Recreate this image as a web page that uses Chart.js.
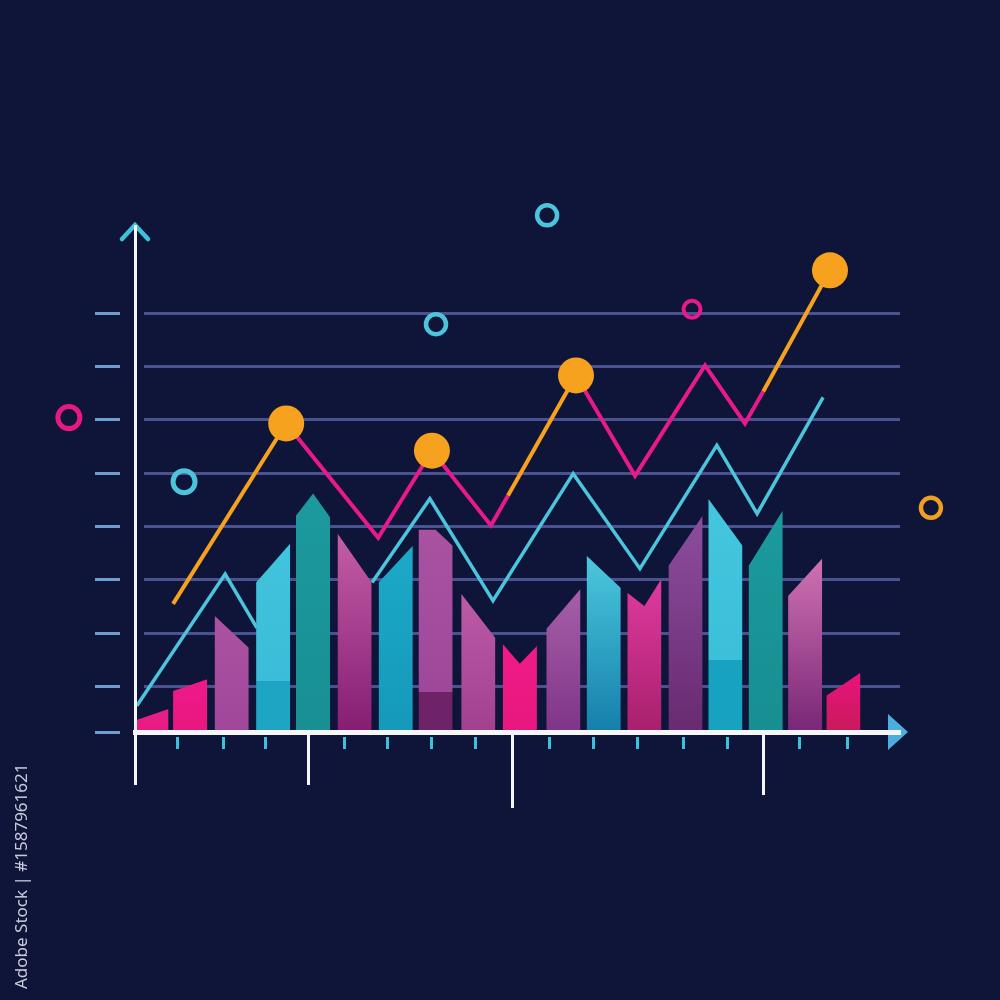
<!DOCTYPE html>
<html>
<head>
<meta charset="utf-8">
<title>Rising bars</title>
<script src="https://cdn.jsdelivr.net/npm/chart.js@4.4.1/dist/chart.umd.min.js"></script>
<style>
  html, body { margin: 0; padding: 0; background: #0f1439; }
  #wrap { position: relative; width: 1000px; height: 1000px; overflow: hidden; }
  #stockId {
    position: absolute; left: 11px; top: 989px;
    transform-origin: 0 0; transform: rotate(-90deg);
    color: #c9cbdb; font: 17px "Noto Sans", sans-serif; white-space: nowrap; line-height: 20px;
  }
</style>
</head>
<body>
<div id="wrap">
  <canvas id="chart" width="1000" height="1000"></canvas>
  <div id="stockId">Adobe Stock | #1587961621</div>
</div>
<script>
// ------------------------------------------------------------------
// Values (x = bar slot, y = grid step)
// ------------------------------------------------------------------
const barX = [0, 0.95, 1.97, 2.99, 3.97, 4.99, 6.0, 6.98, 8.03, 9.05, 10.12, 11.11, 12.11, 13.12, 14.1, 15.09, 16.06, 17.0];
const barLeft = [0.36, 0.92, 2.33, 2.95, 4.2, 3.87, 2.95, 3.94, 2.74, 1.8, 2.08, 3.45, 2.76, 3.26, 4.52, 3.26, 2.7, 0.83];
const barPeak = [null, null, null, null, 4.62, null, null, 3.94, null, 1.43, null, null, 2.51, null, null, null, null, null];
const barRight = [0.58, 1.14, 1.73, 3.68, 4.17, 2.95, 3.64, 3.64, 1.91, 1.76, 2.83, 2.85, 3.02, 4.2, 3.64, 4.3, 3.4, 1.26];

// the cyan line disappears behind bars 4-6 (null = gap)
const cyanX = [-0.36, 1.81, 2.59, 4.0, 5.42, 6.84, 8.39, 10.36, 12.0, 13.89, 14.88, 16.5];
const cyanY = [0.64, 3.11, 2.1, null, 2.95, 4.52, 2.61, 4.99, 3.21, 5.52, 4.24, 6.42];

const trendX = [0.53, 3.31, 5.57, 6.89, 8.34, 8.76, 10.43, 11.88, 13.6, 14.58, 15.03, 16.67];
const trendY = [2.55, 5.93, 3.79, 5.42, 4.02, 4.58, 6.83, 4.95, 7.02, 5.93, 6.53, 8.8];
const trendPeaks = [1, 3, 6, 11];
const trendOrangeSegs = [0, 5, 10];

const ringX = [9.72, 6.99, 13.28, -2.03, 0.8, 19.15];
const ringY = [9.83, 7.79, 8.07, 6.04, 4.84, 4.35];

const gridValues = [0.15, 1, 2, 3, 4, 5, 6, 7, 8];
const majorTicks = [-0.4, 3.85, 8.86, 15.03];
const minorTicks = [0.65, 1.76, 2.81, 4.75, 5.79, 6.87, 7.95, 9.79, 10.85, 11.95, 13.08, 14.14, 15.93, 17.11];

// ------------------------------------------------------------------
// Styling
// ------------------------------------------------------------------
const X_MIN = -0.405, X_MAX = 18.39, Y_MIN = 0.15, Y_MAX = 9.63;
const BAR_W = 0.84;
const majorLen = [50, 50, 73, 60];
const C = {
  grid: "#4a5292", dash: "#6f9dd2", axis: "#f5f5fa",
  cyan: "#4cc4dc", pink: "#e8198b", orange: "#f7a21f", arrow: "#4aaede",
};
const ringColor = [C.cyan, C.cyan, C.pink, "#e5197f", C.cyan, "#f0a020"];
const ringRadius = [10, 10, 8.5, 11, 11, 10];
const ringWidth = [4.5, 4.5, 4, 5, 5, 4.5];

// [top, bottom, band colour, band share of bar height]
const barFills = [
  ["#e61f88", "#ea1a82"],
  ["#ee1a8a", "#e9177f"],
  ["#ab52a2", "#a0479a"],
  ["#41c4dd", "#3bbcd8", "#1ea5c4", 0.27],
  ["#1c9a9d", "#188f93"],
  ["#c35ea8", "#851d72"],
  ["#1ca9c8", "#1599bb"],
  ["#aa52a2", "#9f4799", "#6e2368", 0.2],
  ["#bc5ca8", "#a0408f"],
  ["#f01b88", "#e8177f"],
  ["#a85fa9", "#7e3587"],
  ["#4cc8dd", "#147fab"],
  ["#df3aa0", "#a8206c"],
  ["#8d4d9e", "#682a70"],
  ["#44c6de", "#3cbfd9", "#17a2c1", 0.31],
  ["#1b9a9d", "#178e92"],
  ["#d072b3", "#782676"],
  ["#ea137d", "#c81a5a"],
];

function barFill(i) {
  return (ctx) => {
    const chart = ctx.chart;
    const area = chart.chartArea;
    const f = barFills[i];
    if (!area) return f[0];
    const top = chart.scales.y.getPixelForValue(Math.max(barLeft[i], barRight[i], barPeak[i] ?? 0));
    const g = chart.ctx.createLinearGradient(0, top, 0, area.bottom);
    g.addColorStop(0, f[0]);
    if (f[2]) {
      const cut = 1 - f[3];
      g.addColorStop(cut, f[1]);
      g.addColorStop(cut, f[2]);
      g.addColorStop(1, f[2]);
    } else {
      g.addColorStop(1, f[1]);
    }
    return g;
  };
}

function arrowImage(kind) {
  const c = document.createElement("canvas");
  c.width = 40; c.height = 40;
  const g = c.getContext("2d");
  if (kind === "up") {
    g.strokeStyle = "#3ec0da"; g.lineWidth = 4.5; g.lineCap = "round"; g.lineJoin = "miter";
    g.beginPath(); g.moveTo(7, 33); g.lineTo(20, 19); g.lineTo(33, 33); g.stroke();
  } else {
    g.fillStyle = C.arrow;
    g.beginPath(); g.moveTo(8, 2); g.lineTo(28, 20); g.lineTo(8, 38); g.closePath(); g.fill();
  }
  return c;
}

const pts = (xs, ys) => xs.map((x, i) => ({ x, y: ys[i] }));

// ------------------------------------------------------------------
// Datasets
// ------------------------------------------------------------------
const barSets = barX.map((x, i) => {
  const d = [{ x: x - BAR_W / 2, y: barLeft[i] }];
  if (barPeak[i] != null) d.push({ x, y: barPeak[i] });
  d.push({ x: x + BAR_W / 2, y: barRight[i] });
  return {
    data: d, fill: "start", backgroundColor: barFill(i),
    borderColor: "rgba(0,0,0,0)", borderWidth: 0, pointRadius: 0, tension: 0, order: 5,
  };
});

const datasets = [
  {
    data: pts(cyanX, cyanY), borderColor: C.cyan, borderWidth: 3.5,
    pointRadius: 0, fill: false, tension: 0, spanGaps: false, order: 9,
  },
  ...barSets,
  {
    data: pts(trendX, trendY), borderColor: C.pink, borderWidth: 4, fill: false,
    pointRadius: 0, tension: 0, order: 2,
    segment: { borderColor: (s) => trendOrangeSegs.includes(s.p0DataIndex) ? C.orange : C.pink },
  },
  {
    data: trendPeaks.map((i) => ({ x: trendX[i], y: trendY[i] })), showLine: false,
    pointRadius: 18, pointBackgroundColor: C.orange, pointBorderWidth: 0, order: 1,
  },
  {
    data: pts(ringX, ringY), showLine: false, clip: false,
    pointRadius: ringRadius, pointBorderWidth: ringWidth, pointBorderColor: ringColor,
    pointBackgroundColor: "rgba(0,0,0,0)", pointHoverRadius: 90, order: 1,
  },
  {
    data: [{ x: X_MIN, y: Y_MAX }, { x: X_MAX, y: Y_MIN }], showLine: false, clip: false,
    pointStyle: [arrowImage("up"), arrowImage("right")], pointRadius: 20, order: 0,
  },
];

// ------------------------------------------------------------------
// Chart
// ------------------------------------------------------------------
const isMajor = (v) => majorTicks.indexOf(v);

new Chart(document.getElementById("chart"), {
  type: "line",
  data: { datasets },
  options: {
    responsive: false,
    animation: false,
    devicePixelRatio: 1,
    events: [],
    layout: { autoPadding: false, padding: { left: 95, right: 100, top: 226, bottom: 188 } },
    plugins: { legend: { display: false }, tooltip: { enabled: false } },
    scales: {
      x: {
        type: "linear", min: X_MIN, max: X_MAX, bounds: "data",
        afterBuildTicks: (s) => {
          s.ticks = majorTicks.concat(minorTicks).sort((a, b) => a - b).map((v) => ({ value: v }));
        },
        ticks: { display: false },
        grid: {
          drawOnChartArea: false, tickLength: 80, tickWidth: 3,
          tickColor: (c) => isMajor(c.tick.value) >= 0 ? C.axis : "#3cc0dc",
          tickBorderDash: (c) => {
            const k = isMajor(c.tick.value);
            return k >= 0 ? [majorLen[k], 200] : [0, 2, 12, 200];
          },
        },
        border: { color: C.axis, width: 5, z: 1 },
      },
      y: {
        type: "linear", min: Y_MIN, max: Y_MAX, bounds: "data",
        afterBuildTicks: (s) => { s.ticks = gridValues.map((v) => ({ value: v })); },
        ticks: { display: false },
        grid: {
          color: C.grid, lineWidth: 3, tickLength: 40, tickWidth: 3,
          tickColor: C.dash, tickBorderDash: [25, 100],
        },
        border: { color: C.axis, width: 3, z: 1, dash: [0, 7, 2000, 0] },
      },
    },
  },
});
</script>
</body>
</html>
